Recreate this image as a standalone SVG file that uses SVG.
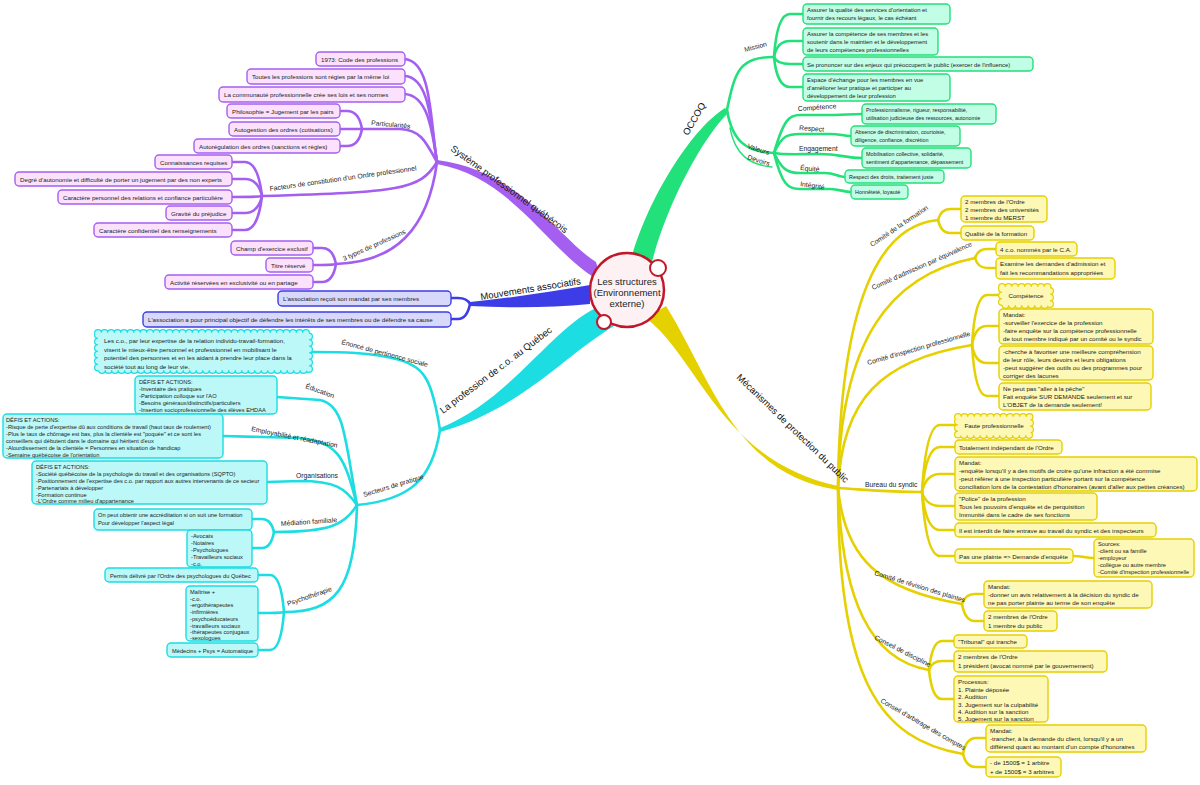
<svg xmlns="http://www.w3.org/2000/svg" width="1200" height="785" viewBox="0 0 1200 785">
<style>
.t{font-family:"Liberation Sans",Arial,sans-serif;font-size:6.2px;fill:#1a1a1a}
.s{font-size:5.7px}
.g{font-size:5.9px}
.v{font-size:5.4px}
.l{font-family:"Liberation Sans",Arial,sans-serif;font-size:6.8px;fill:#222}
.b{font-family:"Liberation Sans",Arial,sans-serif;font-size:9.5px;fill:#111}
.bx{stroke-width:1.4}
.pu{fill:#fbe1fc;stroke:#a45ff0}.bl{fill:#d8d8fb;stroke:#3d3de8}.cy{fill:#bdf8f8;stroke:#1bdde2}.gr{fill:#c2fde6;stroke:#22e07a}.ye{fill:#fdf8b5;stroke:#e5d000}
.c{fill:none;stroke-width:2.6;stroke-linecap:round}
.cp{stroke:#a45ff0}.cb{stroke:#3d3de8}.cc{stroke:#1bdde2}.cg{stroke:#22e07a}.cyl{stroke:#e5d000}
</style>
<rect width="1200" height="785" fill="#fff"/>
<g id="connectors">
<path fill="#a45ff0" d="M596,262 C560,240 520,170 437,160 L437,164 C515,178 550,255 602,282 Z"/>
<path fill="#3d3de8" d="M590,285 C550,292 510,298 470,302 L470,306 C510,308 550,308 590,304 Z"/>
<path fill="#1bdde2" d="M596,308 C550,330 510,400 440,428 L440,432 C520,410 565,355 614,326 Z"/>
<path fill="#22e07a" d="M632,256 C648,200 690,130 725,108 L729,112 C700,140 665,210 652,262 Z"/>
<path fill="#e5d000" d="M646,318 C700,360 720,460 838,486 L838,490 C735,475 712,380 666,306 Z"/>
<g class="c cp">
<path d="M437,162 C430,120 432,62 405,59"/><path d="M437,162 C431,125 430,78 405,76"/><path d="M437,162 C432,130 428,96 405,94"/>
<path d="M437,162 C425,140 420,130 400,129 L362,129"/>
<path d="M362,129 Q359,111 347,111 L340,111"/><path d="M362,129 L340,129"/><path d="M362,129 Q359,146 347,146 L340,146"/>
<path d="M437,162 C420,190 400,192 262,196"/>
<path d="M262,196 Q258,162 245,162 L232,162"/><path d="M262,196 Q258,179 245,179 L232,179"/><path d="M262,196 Q258,197 232,197"/><path d="M262,196 Q258,213 245,213 L232,213"/><path d="M262,196 Q258,230 245,230 L232,230"/>
<path d="M437,162 C428,230 395,262 336,264"/>
<path d="M336,264 Q333,248 322,248 L313,248"/><path d="M336,264 Q333,265 313,265"/><path d="M336,264 Q333,282 322,282 L313,282"/>
</g>
<g class="c cb"><path d="M470,304 Q467,298 458,298 L451,298"/><path d="M470,304 Q467,319 458,319 L451,319"/></g>
<g class="c cc">
<path d="M440,430 C432,380 425,368 400,360 C370,352 340,352 312,352"/>
<path d="M440,430 C432,480 410,500 357,505"/>
<path d="M357,505 C345,440 345,405 320,400 L277,397"/>
<path d="M357,505 C345,460 340,442 300,438 L223,436"/>
<path d="M357,505 C345,488 335,481 300,481 L267,482"/>
<path d="M357,505 C345,525 330,532 274,532"/>
<path d="M274,532 Q271,519 262,519 L252,519"/><path d="M274,532 Q271,548 262,548 L252,548"/>
<path d="M357,505 C355,590 335,612 284,612"/>
<path d="M284,612 Q281,575 270,575 L258,575"/><path d="M284,612 Q281,613 258,613"/><path d="M284,612 Q281,650 270,650 L258,650"/>
</g>
<g class="c cg">
<path d="M727,110 C735,70 740,57 774,57"/>
<path d="M774,57 Q777,14 790,14 L803,14"/><path d="M774,57 Q777,41 790,41 L803,41"/><path d="M774,57 Q777,64 790,64 L803,64"/><path d="M774,57 Q777,87 790,87 L803,87"/>
<path d="M727,110 C732,140 745,152 774,153"/>
<path d="M730,128 C735,155 750,165 772,167" stroke-width="1.4"/>
<path d="M774,153 C784,118 790,115 800,115 L835,115 C845,115 850,114 862,114"/>
<path d="M774,153 C782,135 788,134 800,134 L830,134 C840,134 843,136 851,136"/>
<path d="M774,153 C785,155 795,154 820,154 C840,154 845,158 862,158"/>
<path d="M774,153 C782,170 788,173 800,173 L825,173 C835,173 838,177 845,177"/>
<path d="M774,153 C782,185 788,189 800,189 L830,189 C840,189 843,192 851,192"/>
</g>
<g class="c cyl" stroke-width="3">
<path d="M838,488 C840,300 880,225 938,220"/>
<path d="M938,220 Q941,209 950,209 L961,209"/><path d="M938,220 Q941,233 950,233 L961,233"/>
<path d="M838,488 C840,340 890,275 975,258"/>
<path d="M975,258 Q978,249 987,249 L996,249"/><path d="M975,258 Q978,268 987,268 L996,268"/>
<path d="M838,488 C842,400 880,360 972,345"/>
<path d="M972,345 Q975,295 987,295 L999,295"/><path d="M972,345 Q975,326 987,326 L999,326"/><path d="M972,345 Q975,363 987,363 L999,363"/><path d="M972,345 Q975,396 987,396 L999,396"/>
<path d="M838,488 C870,490 890,492 922,492"/>
<path d="M922,492 Q926,425 940,425 L955,425"/><path d="M922,492 Q926,447 940,447 L955,447"/><path d="M922,492 Q926,474 940,474 L955,474"/><path d="M922,492 Q926,506 940,506 L955,506"/><path d="M922,492 Q926,530 940,530 L955,530"/><path d="M922,492 Q926,556 940,556 L955,556"/>
<path d="M1073,556 C1083,556 1085,558 1094,558"/>
<path d="M838,488 C845,560 880,590 962,604"/>
<path d="M962,604 Q965,594 975,594 L984,594"/><path d="M962,604 Q965,621 975,621 L984,621"/>
<path d="M838,488 C842,600 870,660 929,670"/>
<path d="M929,670 Q932,641 942,641 L954,641"/><path d="M929,670 Q932,661 942,661 L954,661"/><path d="M929,670 Q932,699 942,699 L954,699"/>
<path d="M838,488 C838,680 880,740 963,754"/>
<path d="M963,754 Q966,738 976,738 L986,738"/><path d="M963,754 Q966,767 976,767 L986,767"/>
</g>
<text class="b" transform="translate(450,150) rotate(36)">Système professionnel québécois</text>
<text class="b" transform="translate(481,300) rotate(-9)">Mouvements associatifs</text>
<text class="b" transform="translate(443,414) rotate(-37)">La profession de c.o. au Québec</text>
<text class="b" transform="translate(688,136) rotate(-60)">OCCOQ</text>
<text class="b" transform="translate(736,378) rotate(44)">Mécanismes de protection du public</text>
<text class="l" transform="translate(371,125) rotate(5)">Particularités</text>
<text class="l" transform="translate(270,191) rotate(-8)">Facteurs de constitution d'un Ordre professionnel</text>
<text class="l" transform="translate(344,261) rotate(-24)">3 types de professions</text>
<text class="l" transform="translate(341,344) rotate(15)">Énoncé de pertinence sociale</text>
<text class="l" transform="translate(364,497) rotate(-17)">Secteurs de pratique</text>
<text class="l" transform="translate(305,388) rotate(20)">Éducation</text>
<text class="l" transform="translate(251,431) rotate(11)">Employabilité et réadaptation</text>
<text class="l" transform="translate(296,478)">Organisations</text>
<text class="l" transform="translate(281,526) rotate(-4)">Médiation familiale</text>
<text class="l" transform="translate(288,606) rotate(-19)">Psychothérapie</text>
<text class="l" transform="translate(745,52) rotate(-15)">Mission</text>
<text class="l" transform="translate(747,148) rotate(18)">Valeurs</text>
<text class="l" transform="translate(747,159) rotate(18)">Devoirs</text>
<text class="l" transform="translate(798,111) rotate(-4)">Compétence</text>
<text class="l" transform="translate(799,130) rotate(4)">Respect</text>
<text class="l" transform="translate(799,151)">Engagement</text>
<text class="l" transform="translate(800,170) rotate(5)">Équité</text>
<text class="l" transform="translate(800,186) rotate(8)">Intégrité</text>
<text class="l" transform="translate(872,247) rotate(-34)">Comité de la formation</text>
<text class="l" transform="translate(873,290) rotate(-24)">Comité d'admission par équivalence</text>
<text class="l" transform="translate(868,365) rotate(-16)">Comité d'inspection professionnelle</text>
<text class="l" transform="translate(865,487)">Bureau du syndic</text>
<text class="l" transform="translate(874,575) rotate(17)">Comité de révision des plaintes</text>
<text class="l" transform="translate(874,639) rotate(27)">Conseil de discipline</text>
<text class="l" transform="translate(880,702) rotate(30)">Conseil d'arbitrage des comptes</text>
</g>
<g id="center">
<circle cx="627" cy="290" r="37" fill="#fdf1f4" stroke="#c0182a" stroke-width="2.5"/>
<circle cx="658" cy="268" r="8" fill="#fff" stroke="#c0182a" stroke-width="2"/>
<circle cx="604" cy="322" r="7" fill="#fff" stroke="#c0182a" stroke-width="2"/>
<text font-family="Liberation Sans,Arial,sans-serif" font-size="9.5" fill="#222" text-anchor="middle"><tspan x="627" y="285">Les structures</tspan><tspan x="627" y="296">(Environnement</tspan><tspan x="627" y="307">externe)</tspan></text>
</g>
<g id="purple">
<g id="p1"><rect class="bx pu" x="316" y="52" width="89" height="14" rx="4"/><text class="t" x="321" y="61.5">1973: Code des professions</text></g>
<g id="p2"><rect class="bx pu" x="247" y="69" width="158" height="15" rx="4"/><text class="t" x="252" y="79">Toutes les professions sont régies par la même loi</text></g>
<g id="p3"><rect class="bx pu" x="219" y="87" width="186" height="15" rx="4"/><text class="t" x="224" y="97">La communauté professionnelle crée ses lois et ses normes</text></g>
<g id="p4"><rect class="bx pu" x="227" y="104" width="113" height="14" rx="4"/><text class="t" x="232" y="113.5">Philosophie = Jugement par les pairs</text></g>
<g id="p5"><rect class="bx pu" x="229" y="122" width="111" height="14" rx="4"/><text class="t" x="234" y="131.5">Autogestion des ordres (cotisations)</text></g>
<g id="p6"><rect class="bx pu" x="194" y="139" width="146" height="14" rx="4"/><text class="t" x="199" y="148.5">Autorégulation des ordres (sanctions et règles)</text></g>
<g id="p7"><rect class="bx pu" x="155" y="155" width="77" height="14" rx="4"/><text class="t" x="160" y="164.5">Connaissances requises</text></g>
<g id="p8"><rect class="bx pu" x="15" y="172" width="217" height="14" rx="4"/><text class="t" x="20" y="181.5">Degré d'autonomie et difficulté de porter un jugement par des non experts</text></g>
<g id="p9"><rect class="bx pu" x="58" y="190" width="174" height="14" rx="4"/><text class="t" x="63" y="199.5">Caractère personnel des relations et confiance particulière</text></g>
<g id="p10"><rect class="bx pu" x="166" y="206" width="66" height="14" rx="4"/><text class="t" x="171" y="215.5">Gravité du préjudice</text></g>
<g id="p11"><rect class="bx pu" x="94" y="223" width="138" height="14" rx="4"/><text class="t" x="99" y="232.5">Caractère confidentiel des renseignements</text></g>
<g id="p12"><rect class="bx pu" x="231" y="241" width="82" height="14" rx="4"/><text class="t" x="236" y="250.5">Champ d'exercice exclusif</text></g>
<g id="p13"><rect class="bx pu" x="266" y="258" width="47" height="14" rx="4"/><text class="t" x="271" y="267.5">Titre réservé</text></g>
<g id="p14"><rect class="bx pu" x="165" y="275" width="148" height="14" rx="4"/><text class="t" x="170" y="284.5">Activité réservées en exclusivité ou en partage</text></g>
</g>
<g id="blue">
<g id="b1"><rect class="bx bl" x="278" y="291" width="173" height="15" rx="4"/><text class="t" x="283" y="301">L'association reçoit son mandat par ses membres</text></g>
<g id="b2"><rect class="bx bl" x="143" y="312" width="308" height="15" rx="4"/><text class="t" x="148" y="322">L'association a pour principal objectif de défendre les intérêts de ses membres ou de défendre sa cause</text></g>
</g>
<g id="cyan">
<g id="c1">
<rect x="98" y="333" width="211" height="37" fill="none" stroke="#1bdde2" stroke-width="8" stroke-dasharray="0 6.5" stroke-linecap="round"/>
<rect x="98" y="333" width="211" height="37" fill="none" stroke="#bdf8f8" stroke-width="5.6" stroke-dasharray="0 6.5" stroke-linecap="round"/>
<rect x="98" y="333" width="211" height="37" fill="#bdf8f8"/>
<text class="t"><tspan x="104" y="343">Les c.o., par leur expertise de la relation individu-travail-formation,</tspan><tspan x="104" y="351.5">visent le mieux-être personnel et professionnel en mobilisant le</tspan><tspan x="104" y="360">potentiel des personnes et en les aidant à prendre leur place dans la</tspan><tspan x="104" y="368.5">société tout au long de leur vie.</tspan></text>
</g>
<g id="c2"><rect class="bx cy" x="135" y="376" width="142" height="38" rx="4"/><text class="t s"><tspan x="139" y="384">DÉFIS ET ACTIONS:</tspan><tspan x="139" y="391">-Inventaire des pratiques</tspan><tspan x="139" y="398">-Participation colloque sur l'AO</tspan><tspan x="139" y="405">-Besoins généraux/distinctifs/particuliers</tspan><tspan x="139" y="412">-Insertion socioprofessionnelle des élèves EHDAA</tspan></text></g>
<g id="c3"><rect class="bx cy" x="3" y="414" width="220" height="44" rx="4"/><text class="t s"><tspan x="6" y="422">DÉFIS ET ACTIONS:</tspan><tspan x="6" y="429">-Risque de perte d'expertise dû aux conditions de travail (haut taux de roulement)</tspan><tspan x="6" y="436">-Plus le taux de chômage est bas, plus la clientèle est "poquée" et ce sont les</tspan><tspan x="6" y="443">conseillers qui débutent dans le domaine qui héritent d'eux</tspan><tspan x="6" y="450">-Alourdissement de la clientèle = Personnes en situation de handicap</tspan><tspan x="6" y="457">-Semaine québécoise de l'orientation</tspan></text></g>
<g id="c4"><rect class="bx cy" x="32" y="461" width="235" height="43" rx="4"/><text class="t s"><tspan x="36" y="469">DÉFIS ET ACTIONS:</tspan><tspan x="36" y="476">-Société québécoise de la psychologie du travail et des organisations (SQPTO)</tspan><tspan x="36" y="483">-Positionnement de l'expertise des c.o. par rapport aux autres intervenants de ce secteur</tspan><tspan x="36" y="490">-Partenariats à développer</tspan><tspan x="36" y="497">-Formation continue</tspan><tspan x="36" y="503">-L'Ordre comme milieu d'appartenance</tspan></text></g>
<g id="c5"><rect class="bx cy" x="94" y="509" width="158" height="21" rx="4"/><text class="t s"><tspan x="98" y="517">On peut obtenir une accréditation si on suit une formation</tspan><tspan x="98" y="525">Pour développer l'aspect légal</tspan></text></g>
<g id="c6"><rect class="bx cy" x="187" y="530" width="65" height="37" rx="4"/><text class="t s"><tspan x="191" y="538">-Avocats</tspan><tspan x="191" y="545">-Notaires</tspan><tspan x="191" y="552">-Psychologues</tspan><tspan x="191" y="559">-Travailleurs sociaux</tspan><tspan x="191" y="566">-c.o.</tspan></text></g>
<g id="c7"><rect class="bx cy" x="105" y="568" width="153" height="14" rx="4"/><text class="t s" x="110" y="577.5">Permis délivré par l'Ordre des psychologues du Québec</text></g>
<g id="c8"><rect class="bx cy" x="186" y="586" width="72" height="55" rx="4"/><text class="t s"><tspan x="190" y="594">Maîtrise +</tspan><tspan x="190" y="600.7">-c.o.</tspan><tspan x="190" y="607.4">-ergothérapeutes</tspan><tspan x="190" y="614.1">-infirmières</tspan><tspan x="190" y="620.8">-psychoéducateurs</tspan><tspan x="190" y="627.5">-travailleurs sociaux</tspan><tspan x="190" y="634.2">-thérapeutes conjugaux</tspan><tspan x="190" y="640">-sexologues</tspan></text></g>
<g id="c9"><rect class="bx cy" x="167" y="643" width="91" height="14" rx="4"/><text class="t s" x="172" y="652.5">Médecins + Psys = Automatique</text></g>
</g>
<g id="green">
<g id="g1"><rect class="bx gr" x="803" y="4" width="147" height="20" rx="4"/><text class="t g"><tspan x="807" y="12">Assurer la qualité des services d'orientation et</tspan><tspan x="807" y="20">fournir des recours légaux, le cas échéant</tspan></text></g>
<g id="g2"><rect class="bx gr" x="803" y="28" width="135" height="27" rx="4"/><text class="t g"><tspan x="807" y="36">Assurer la compétence de ses membres et les</tspan><tspan x="807" y="44">soutenir dans le maintien et le développement</tspan><tspan x="807" y="52">de leurs compétences professionnelles</tspan></text></g>
<g id="g3"><rect class="bx gr" x="803" y="57" width="230" height="14" rx="4"/><text class="t g" x="807" y="66.5">Se prononcer sur des enjeux qui préoccupent le public (exercer de l'influence)</text></g>
<g id="g4"><rect class="bx gr" x="803" y="74" width="147" height="27" rx="4"/><text class="t g"><tspan x="807" y="82">Espace d'échange pour les membres en vue</tspan><tspan x="807" y="90">d'améliorer leur pratique et participer au</tspan><tspan x="807" y="98">développement de leur profession</tspan></text></g>
<g id="g5"><rect class="bx gr" x="862" y="104" width="134" height="20" rx="4"/><text class="t v"><tspan x="866" y="112">Professionnalisme, rigueur, responsabilité,</tspan><tspan x="866" y="120">utilisation judicieuse des ressources, autonomie</tspan></text></g>
<g id="g6"><rect class="bx gr" x="851" y="126" width="109" height="20" rx="4"/><text class="t v"><tspan x="855" y="134">Absence de discrimination, courtoisie,</tspan><tspan x="855" y="142">diligence, confiance, discrétion</tspan></text></g>
<g id="g7"><rect class="bx gr" x="862" y="148" width="109" height="20" rx="4"/><text class="t v"><tspan x="866" y="156">Mobilisation collective, solidarité,</tspan><tspan x="866" y="164">sentiment d'appartenance, dépassement</tspan></text></g>
<g id="g8"><rect class="bx gr" x="845" y="170" width="99" height="13" rx="4"/><text class="t v" x="849" y="178.5">Respect des droits, traitement juste</text></g>
<g id="g9"><rect class="bx gr" x="851" y="185" width="57" height="14" rx="4"/><text class="t v" x="855" y="194">Honnêteté, loyauté</text></g>
</g>
<g id="yellow">
<g id="y1"><rect class="bx ye" x="961" y="196" width="86" height="26" rx="4"/><text class="t"><tspan x="965" y="204">2 membres de l'Ordre</tspan><tspan x="965" y="212">2 membres des universités</tspan><tspan x="965" y="220">1 membre du MERST</tspan></text></g>
<g id="y2"><rect class="bx ye" x="961" y="226" width="73" height="14" rx="4"/><text class="t" x="965" y="235.5">Qualité de la formation</text></g>
<g id="y3"><rect class="bx ye" x="996" y="242" width="81" height="14" rx="4"/><text class="t" x="1000" y="251.5">4 c.o. nommés par le C.A.</text></g>
<g id="y4"><rect class="bx ye" x="996" y="258" width="119" height="21" rx="4"/><text class="t"><tspan x="1000" y="266">Examine les demandes d'admission et</tspan><tspan x="1000" y="275">fait les recommandations appropriées</tspan></text></g>
<g id="y5">
<rect x="1002" y="287" width="48" height="18" fill="none" stroke="#e5d000" stroke-width="8" stroke-dasharray="0 6.5" stroke-linecap="round"/>
<rect x="1002" y="287" width="48" height="18" fill="none" stroke="#fdf8b5" stroke-width="5.6" stroke-dasharray="0 6.5" stroke-linecap="round"/>
<rect x="1002" y="287" width="48" height="18" fill="#fdf8b5"/>
<text class="t" x="1026" y="298" text-anchor="middle">Compétence</text></g>
<g id="y6"><rect class="bx ye" x="999" y="309" width="154" height="35" rx="4"/><text class="t"><tspan x="1003" y="317">Mandat:</tspan><tspan x="1003" y="325">-surveiller l'exercice de la profession</tspan><tspan x="1003" y="333">-faire enquête sur la compétence professionnelle</tspan><tspan x="1003" y="341">de tout membre indiqué par un comité ou le syndic</tspan></text></g>
<g id="y7"><rect class="bx ye" x="999" y="346" width="154" height="34" rx="4"/><text class="t"><tspan x="1003" y="354">-cherche à favoriser une meilleure compréhension</tspan><tspan x="1003" y="362">de leur rôle, leurs devoirs et leurs obligations</tspan><tspan x="1003" y="370">-peut suggérer des outils ou des programmes pour</tspan><tspan x="1003" y="378">corriger des lacunes</tspan></text></g>
<g id="y8"><rect class="bx ye" x="999" y="383" width="152" height="27" rx="4"/><text class="t"><tspan x="1003" y="391">Ne peut pas "aller à la pêche"</tspan><tspan x="1003" y="399">Fait enquête SUR DEMANDE seulement et sur</tspan><tspan x="1003" y="407">L'OBJET de la demande seulement!</tspan></text></g>
<g id="y9">
<rect x="958" y="417" width="72" height="18" fill="none" stroke="#e5d000" stroke-width="8" stroke-dasharray="0 6.5" stroke-linecap="round"/>
<rect x="958" y="417" width="72" height="18" fill="none" stroke="#fdf8b5" stroke-width="5.6" stroke-dasharray="0 6.5" stroke-linecap="round"/>
<rect x="958" y="417" width="72" height="18" fill="#fdf8b5"/>
<text class="t" x="994" y="428" text-anchor="middle">Faute professionnelle</text></g>
<g id="y10"><rect class="bx ye" x="955" y="440" width="107" height="14" rx="4"/><text class="t" x="959" y="449.5">Totalement indépendant de l'Ordre</text></g>
<g id="y11"><rect class="bx ye" x="955" y="457" width="242" height="34" rx="4"/><text class="t"><tspan x="959" y="465">Mandat:</tspan><tspan x="959" y="473">-enquête lorsqu'il y a des motifs de croire qu'une infraction a été commise</tspan><tspan x="959" y="481">-peut référer à une inspection particulière portant sur la compétence</tspan><tspan x="959" y="489">conciliation lors de la contestation d'honoraires (avant d'aller aux petites créances)</tspan></text></g>
<g id="y12"><rect class="bx ye" x="955" y="493" width="142" height="27" rx="4"/><text class="t"><tspan x="959" y="501">"Police" de la profession</tspan><tspan x="959" y="509">Tous les pouvoirs d'enquête et de perquisition</tspan><tspan x="959" y="517">Immunité dans le cadre de ses fonctions</tspan></text></g>
<g id="y13"><rect class="bx ye" x="955" y="523" width="201" height="14" rx="4"/><text class="t" x="959" y="532.5">Il est interdit de faire entrave au travail du syndic et des inspecteurs</text></g>
<g id="y14"><rect class="bx ye" x="955" y="549" width="118" height="14" rx="4"/><text class="t" x="959" y="558.5">Pas une plainte =&gt; Demande d'enquête</text></g>
<g id="y15"><rect class="bx ye" x="1094" y="539" width="100" height="38" rx="4"/><text class="t s"><tspan x="1098" y="546">Sources:</tspan><tspan x="1098" y="553">-client ou sa famille</tspan><tspan x="1098" y="560">-employeur</tspan><tspan x="1098" y="567">-collègue ou autre membre</tspan><tspan x="1098" y="574">-Comité d'inspection professionnelle</tspan></text></g>
<g id="y16"><rect class="bx ye" x="984" y="581" width="168" height="27" rx="4"/><text class="t"><tspan x="988" y="589">Mandat:</tspan><tspan x="988" y="597">-donner un avis relativement à la décision du syndic de</tspan><tspan x="988" y="605">ne pas porter plainte au terme de son enquête</tspan></text></g>
<g id="y17"><rect class="bx ye" x="984" y="611" width="73" height="20" rx="4"/><text class="t"><tspan x="988" y="619">2 membres de l'Ordre</tspan><tspan x="988" y="628">1 membre du public</tspan></text></g>
<g id="y18"><rect class="bx ye" x="954" y="635" width="73" height="13" rx="4"/><text class="t" x="958" y="644">"Tribunal" qui tranche</text></g>
<g id="y19"><rect class="bx ye" x="954" y="651" width="153" height="21" rx="4"/><text class="t"><tspan x="958" y="659">2 membres de l'Ordre</tspan><tspan x="958" y="668">1 président (avocat nommé par le gouvernement)</tspan></text></g>
<g id="y20"><rect class="bx ye" x="954" y="676" width="94" height="46" rx="4"/><text class="t"><tspan x="958" y="684">Processus:</tspan><tspan x="958" y="691.5">1. Plainte déposée</tspan><tspan x="958" y="699">2. Audition</tspan><tspan x="958" y="706.5">3. Jugement sur la culpabilité</tspan><tspan x="958" y="714">4. Audition sur la sanction</tspan><tspan x="958" y="721">5. Jugement sur la sanction</tspan></text></g>
<g id="y21"><rect class="bx ye" x="986" y="725" width="160" height="27" rx="4"/><text class="t"><tspan x="990" y="733">Mandat:</tspan><tspan x="990" y="741">-trancher, à la demande du client, lorsqu'il y a un</tspan><tspan x="990" y="749">différend quant au montant d'un compte d'honoraires</tspan></text></g>
<g id="y22"><rect class="bx ye" x="986" y="757" width="75" height="20" rx="4"/><text class="t"><tspan x="990" y="765">- de 1500$ = 1 arbitre</tspan><tspan x="990" y="774">+ de 1500$ = 3 arbitres</tspan></text></g>
</g>
</svg>
